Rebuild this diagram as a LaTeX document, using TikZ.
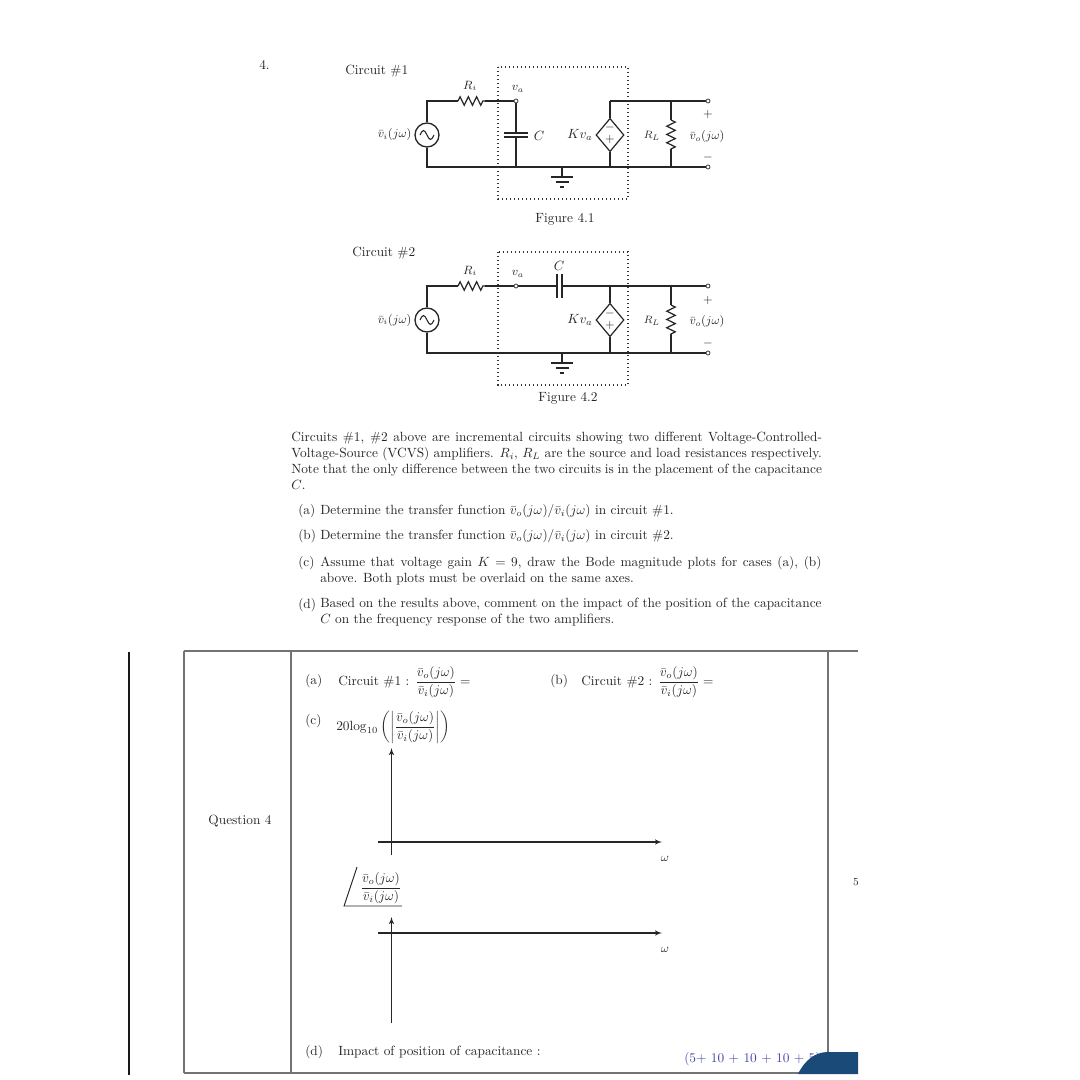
\documentclass[tikz,border=0pt]{standalone}
\usepackage{amssymb, amsmath, amsfonts}
\usepackage{tikz}
\usetikzlibrary{arrows,decorations.pathmorphing,positioning,shapes.geometric}
\newcommand{\vi}{\bar v_i(j\omega)}
\newcommand{\vo}{\bar v_o(j\omega)}
\newcommand{\vfrac}{\dfrac{\vo}{\vi}}
\tikzset{
	wire/.style={line width=.9pt,black!85},
	zz/.style={line width=.9pt,black!85,decorate,decoration={zigzag,segment length=6.2pt,amplitude=3.2pt}},
	pin/.style={circle,draw,fill=white,line width=.5pt,inner sep=0pt,minimum size=3pt},
	source/.style={circle,draw,fill=white,line width=1pt,inner sep=0pt,minimum size=18pt},
	vcvs/.style={diamond,draw,fill=white,line width=.9pt,inner sep=0pt,minimum width=21pt,minimum height=25pt},
	dotbox/.style={dotted,line width=1pt,black!80},
	frame/.style={line width=.8pt,black!55},
	axis/.style={line width=.8pt,black!85},
	lbl/.style={inner sep=0pt,font=\small},
	txt/.style={inner sep=0pt,anchor=west},
	para/.style={inner sep=0pt,anchor=north west,align=justify},
	gnd/.pic={\draw[line width=.8pt] (-11,0) -- (11,0) (-6.5,5) -- (6.5,5) (-2,10) -- (2,10);},
	sinewave/.pic={\draw[line width=.8pt] (-7,0) sin (-3.5,-4.5) cos (0,0) sin (3.5,4.5) cos (7,0);}
}
\begin{document}
\begin{tikzpicture}[x=.75pt,y=-.75pt,>=latex',color=black!85,node distance=2pt]
	\path[use as bounding box,fill=white] (0,0) rectangle (1080,1080);
	\node[txt] (qnum) at (259,65) {4.};

	% circuit 1
	\node[txt] (title1) at (345,71) {Circuit \#1};
	\node[source] (src1) at (427,135) {};
	\pic at (src1) {sinewave};
	\node[vcvs] (dep1) at (610,135) {};
	\node[inner sep=0pt] (depm1) at (610,128) {\small$-$};
	\node[inner sep=0pt] (depp1) at (610,140) {\small$+$};
	\node[pin] (va1) at (516,101) {};
	\node[pin] (outa1) at (708,101) {};
	\node[pin] (outb1) at (708,167) {};
	\coordinate (tl1) at (427,101);
	\coordinate (bl1) at (427,167);
	\coordinate (ril1) at (458,101);
	\coordinate (rir1) at (485,101);
	\coordinate (ct1) at (516,133);
	\coordinate (cb1) at (516,137);
	\coordinate (cbot1) at (516,167);
	\coordinate (dt1) at (610,101);
	\coordinate (db1) at (610,167);
	\coordinate (rlt1) at (671,101);
	\coordinate (rla1) at (671,120);
	\coordinate (rlb1) at (671,149);
	\coordinate (rlc1) at (671,167);
	\coordinate (gt1) at (562,167);
	\coordinate (gb1) at (562,177);
	\draw[wire] (src1) -- (tl1) -- (ril1);
	\draw[zz] (ril1) -- (rir1);
	\draw[wire] (rir1) -- (va1);
	\draw[wire] (va1) -- (ct1);
	\draw[wire] (ct1) ++(-12,0) -- ++(24,0);
	\draw[wire] (cb1) ++(-12,0) -- ++(24,0);
	\draw[wire] (cb1) -- (cbot1);
	\draw[wire] (src1) -- (bl1) -- (outb1);
	\draw[wire] (dep1) -- (dt1);
	\draw[wire] (dep1) -- (db1);
	\draw[wire] (dt1) -- (outa1);
	\draw[wire] (rlt1) -- (rla1);
	\draw[zz] (rla1) -- (rlb1);
	\draw[wire] (rlb1) -- (rlc1);
	\draw[wire] (gt1) -- (gb1);
	\pic at (gb1) {gnd};
	\draw[dotbox] (498,67) rectangle (628,199);
	\node[lbl] (ri1) at (470,86) {$R_i$};
	\node[lbl] (val1) at (518,89) {$v_a$};
	\node[lbl,font=\normalsize] (c1) at (539,136) {$C$};
	\node[lbl,left=2pt of src1] (vil1) {$\vi$};
	\node[lbl,font=\normalsize,left=2pt of dep1] (kv1) {$Kv_a$};
	\node[lbl,font=\footnotesize,anchor=east] (rl1) at (660,136) {$R_L$};
	\node[lbl] (vol1) at (707,137) {$\vo$};
	\node[lbl] (pl1) at (708,115) {$+$};
	\node[lbl] (mi1) at (708,158) {$-$};
	\node[inner sep=0pt] (fig1) at (565,219) {Figure 4.1};

	% circuit 2
	\node[txt] (title2) at (352,253) {Circuit \#2};
	\node[source] (src2) at (427,320) {};
	\pic at (src2) {sinewave};
	\node[vcvs] (dep2) at (610,320) {};
	\node[inner sep=0pt] (depm2) at (610,313) {\small$-$};
	\node[inner sep=0pt] (depp2) at (610,325) {\small$+$};
	\node[pin] (va2) at (516,286) {};
	\node[pin] (outa2) at (708,286) {};
	\node[pin] (outb2) at (708,353) {};
	\coordinate (tl2) at (427,286);
	\coordinate (bl2) at (427,353);
	\coordinate (ril2) at (458,286);
	\coordinate (rir2) at (485,286);
	\coordinate (ct2) at (557,286);
	\coordinate (cb2) at (562,286);
	\coordinate (dt2) at (610,286);
	\coordinate (db2) at (610,353);
	\coordinate (rlt2) at (671,286);
	\coordinate (rla2) at (671,305);
	\coordinate (rlb2) at (671,334);
	\coordinate (rlc2) at (671,353);
	\coordinate (gt2) at (562,353);
	\coordinate (gb2) at (562,363);
	\draw[wire] (src2) -- (tl2) -- (ril2);
	\draw[zz] (ril2) -- (rir2);
	\draw[wire] (rir2) -- (va2);
	\draw[wire] (va2) -- (ct2);
	\draw[wire] (ct2) ++(0,-12) -- ++(0,24);
	\draw[wire] (cb2) ++(0,-12) -- ++(0,24);
	\draw[wire] (cb2) -- (outa2);
	\draw[wire] (src2) -- (bl2) -- (outb2);
	\draw[wire] (dep2) -- (dt2);
	\draw[wire] (dep2) -- (db2);
	\draw[wire] (rlt2) -- (rla2);
	\draw[zz] (rla2) -- (rlb2);
	\draw[wire] (rlb2) -- (rlc2);
	\draw[wire] (gt2) -- (gb2);
	\pic at (gb2) {gnd};
	\draw[dotbox] (498,252) rectangle (628,385);
	\node[lbl] (ri2) at (470,271) {$R_i$};
	\node[lbl] (val2) at (518,274) {$v_a$};
	\node[lbl,font=\normalsize] (c2) at (559,266) {$C$};
	\node[lbl,left=2pt of src2] (vil2) {$\vi$};
	\node[lbl,font=\normalsize,left=2pt of dep2] (kv2) {$Kv_a$};
	\node[lbl,font=\footnotesize,anchor=east] (rl2) at (660,321) {$R_L$};
	\node[lbl] (vol2) at (707,322) {$\vo$};
	\node[lbl] (pl2) at (708,300) {$+$};
	\node[lbl] (mi2) at (708,343) {$-$};
	\node[inner sep=0pt] (fig2) at (568,398) {Figure 4.2};

	% question text
	\node[para,text width=398pt] (intro) at (291,432) {Circuits \#1, \#2 above are incremental circuits showing two different Voltage-Controlled-Voltage-Source (VCVS) amplifiers. $R_i$, $R_L$ are the source and load resistances respectively. Note that the only difference between the two circuits is in the placement of the capacitance $C$.};
	\node[txt] (qa) at (298,511) {(a)};
	\node[txt] (qat) at (320,511) {Determine the transfer function $\vo/\vi$ in circuit \#1.};
	\node[txt] (qb) at (298,536) {(b)};
	\node[txt] (qbt) at (320,536) {Determine the transfer function $\vo/\vi$ in circuit \#2.};
	\node[para,anchor=north west] (qc) at (298,556) {(c)};
	\node[para,text width=376pt] (qct) at (320,556) {Assume that voltage gain $K=9$, draw the Bode magnitude plots for cases (a), (b) above. Both plots must be overlaid on the same axes.};
	\node[para] (qd) at (298,598) {(d)};
	\node[para,text width=376pt] (qdt) at (320,598) {Based on the results above, comment on the impact of the position of the capacitance $C$ on the frequency response of the two amplifiers.};

	% answer table
	\coordinate (tbl) at (184,651);
	\coordinate (tbm) at (291,651);
	\coordinate (tbr) at (828,651);
	\coordinate (tbe) at (858,651);
	\coordinate (bbl) at (184,1073);
	\coordinate (bbm) at (291,1073);
	\coordinate (bbr) at (828,1073);
	\coordinate (bbe) at (858,1073);
	\coordinate (bart) at (129,652);
	\coordinate (barb) at (129,1075);
	\draw[line width=2pt,black!90] (bart) -- (barb);
	\draw[frame] (tbl) -- (tbe);
	\draw[frame] (bbl) -- (bbe);
	\draw[frame] (tbl) -- (bbl);
	\draw[frame] (tbm) -- (bbm);
	\draw[frame] (tbr) -- (bbr);
	\node[inner sep=0pt] (qlabel) at (240,821) {Question 4};
	\node[inner sep=0pt] (marks) at (856,882) {\footnotesize 5};

	\node[txt] (aa) at (305,681) {(a)};
	\node[txt] (aat) at (338,682) {Circuit \#1 : $\vfrac=$};
	\node[txt] (ab) at (550,681) {(b)};
	\node[txt] (abt) at (581,682) {Circuit \#2 : $\vfrac=$};
	\node[txt] (ac) at (305,721) {(c)};
	\node[txt] (act) at (336,727) {$20\mathrm{log}_{10}\left(\left|\vfrac\right|\right)$};

	% magnitude axes
	\coordinate (ya) at (391.5,855);
	\coordinate (yb) at (391.5,748);
	\coordinate (xa) at (378,842);
	\coordinate (xb) at (662,842);
	\draw[axis,->] (ya) -- (yb);
	\draw[axis,->] (xa) -- (xb);
	\node[lbl] (wa) at (665,859) {$\omega$};

	% phase axes
	\coordinate (angt) at (357,867);
	\coordinate (angl) at (344,906);
	\coordinate (angr) at (402,906);
	\draw[line width=.7pt] (angt) -- (angl) -- (angr);
	\node[inner sep=0pt] (phase) at (381,888) {$\vfrac$};
	\coordinate (yc) at (391.5,1023);
	\coordinate (yd) at (391.5,917);
	\coordinate (xc) at (378,933);
	\coordinate (xd) at (662,933);
	\draw[axis,->] (yc) -- (yd);
	\draw[axis,->] (xc) -- (xd);
	\node[lbl] (wb) at (665,950) {$\omega$};

	\node[txt] (ad) at (305,1052) {(d)};
	\node[txt] (adt) at (338,1052) {Impact of position of capacitance :};
	\node[txt,text={rgb,255:red,70;green,70;blue,175}] (total) at (684,1059) {(5+ 10 + 10 + 10 + 5)};
	\fill[fill={rgb,255:red,26;green,75;blue,120}] (798,1074) .. controls (805,1060) and (815,1052) .. (828,1052) -- (858,1052) -- (858,1074) -- cycle;
\end{tikzpicture}
\end{document}
